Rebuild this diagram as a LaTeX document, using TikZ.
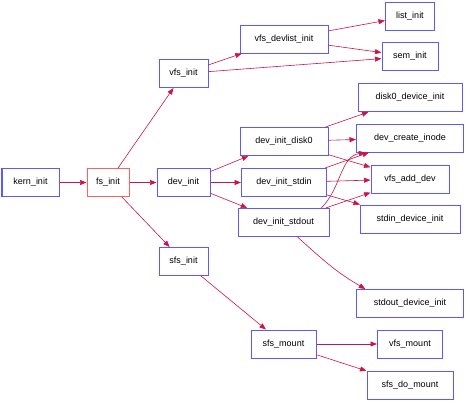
\documentclass[tikz,border=0pt]{standalone}
\usepackage{fontspec}
\setmainfont{Liberation Sans}
\usetikzlibrary{arrows.meta}
\definecolor{callred}{RGB}{204,20,72}
\definecolor{fnblue}{RGB}{90,90,255}
\definecolor{rootred}{RGB}{255,96,96}
\begin{document}
\begin{tikzpicture}[x=1pt,y=1pt,
    fn/.style={draw=fnblue,line width=1pt,minimum height=28pt,inner sep=2pt,font=\fontsize{9}{10}\selectfont},
    call/.style={draw=callred,line width=0.6pt,-{Triangle[length=6.5pt,width=5pt]}}]
        \useasboundingbox (0,0) rectangle (467,-402);
        \node[fn,minimum width=57pt] (kern) at (30.5,-182.5) {kern\_init};
        \node[fn,draw=rootred,minimum width=42pt] (fs) at (108,-182.5) {fs\_init};
        \node[fn,minimum width=49pt] (vfs) at (183.5,-73.5) {vfs\_init};
        \node[fn,minimum width=53pt] (dev) at (183.5,-182.5) {dev\_init};
        \node[fn,minimum width=49pt] (sfs) at (183.5,-261.5) {sfs\_init};
        \node[fn,minimum width=88pt] (devlist) at (284,-39) {vfs\_devlist\_init};
        \node[fn,minimum width=88pt] (initdisk) at (284,-141.5) {dev\_init\_disk0};
        \node[fn,minimum width=85pt] (initstdin) at (284,-182.5) {dev\_init\_stdin};
        \node[fn,minimum width=91pt] (initstdout) at (283.5,-222.5) {dev\_init\_stdout};
        \node[fn,minimum width=65pt] (sfsmount) at (283.5,-344) {sfs\_mount};
        \node[fn,minimum width=49pt] (list) at (410,-16) {list\_init};
        \node[fn,minimum width=56pt] (sem) at (410,-56.5) {sem\_init};
        \node[fn,minimum width=104pt] (diskdev) at (410,-97.5) {disk0\_device\_init};
        \node[fn,minimum width=107pt] (createinode) at (410,-138) {dev\_create\_inode};
        \node[fn,minimum width=78pt] (adddev) at (410,-179) {vfs\_add\_dev};
        \node[fn,minimum width=100pt] (stdindev) at (410,-219) {stdin\_device\_init};
        \node[fn,minimum width=107pt] (stdoutdev) at (410,-303.5) {stdout\_device\_init};
        \node[fn,minimum width=65pt] (vfsmount) at (410,-344) {vfs\_mount};
        \node[fn,minimum width=86pt] (domount) at (410,-385) {sfs\_do\_mount};
        \foreach \a/\b in {kern/fs,fs/vfs,fs/dev,fs/sfs,vfs/devlist,vfs/sem,devlist/list,devlist/sem,
            dev/initdisk,dev/initstdin,dev/initstdout,initdisk/diskdev,initdisk/createinode,initdisk/adddev,
            initstdin/createinode,initstdin/adddev,initstdin/stdindev,initstdout/adddev,
            sfs/sfsmount,sfsmount/vfsmount,sfsmount/domount}
        \draw[call] (\a)--(\b);
        \draw[call] (initstdout.21) .. controls +(20,20) and +(-25,-4) .. (createinode.198);
        \draw[call] (initstdout.-46) to[out=-42,in=150] (stdoutdev.162);
    \end{tikzpicture}
\end{document}
